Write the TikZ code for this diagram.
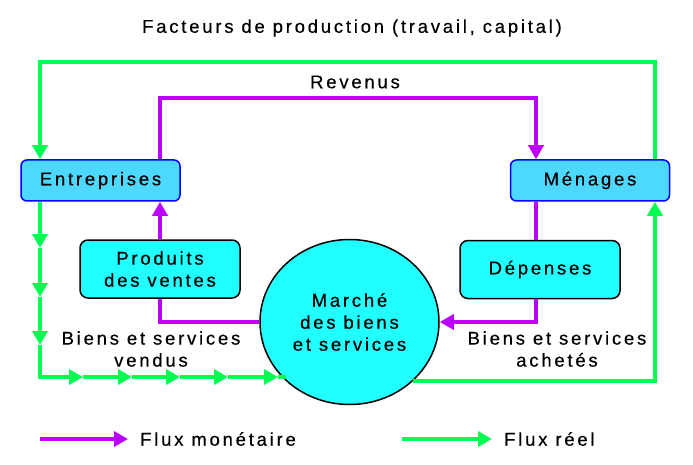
\documentclass[tikz,border=0pt]{standalone}
\usepackage{fontspec}
\setmainfont{Liberation Sans}[LetterSpace=15,FakeBold=0.4]
\usetikzlibrary{arrows.meta,shapes.geometric}
\definecolor{vert}{RGB}{0,255,80}
\definecolor{violetf}{RGB}{187,0,255}
\definecolor{bleuc}{RGB}{77,217,255}
\definecolor{cyanc}{RGB}{34,255,255}
\begin{document}
\begin{tikzpicture}[x=1pt,y=-1pt,
  every node/.style={font=\fontsize{18.5}{22}\selectfont},
  agent/.style={draw=blue,line width=1.5pt,fill=bleuc,rounded corners=6pt,minimum width=159pt,minimum height=41pt,inner sep=0pt},
  fluxbox/.style={draw=black,line width=1.5pt,fill=cyanc,rounded corners=8pt,minimum width=160pt,minimum height=58pt,align=center,inner sep=0pt},
  marche/.style={ellipse,draw=black,line width=1.5pt,fill=cyanc,minimum width=179pt,minimum height=165pt,inner sep=0pt,align=center},
  reel/.style={draw=vert,line width=4pt},
  mon/.style={draw=violetf,line width=4pt},
  tipr/.style={-{Triangle[length=14pt,width=15pt]}},
  lbl/.style={align=center,inner sep=0pt}
]
\useasboundingbox (0,0) rectangle (693,465);

% nodes
\node[agent] (E) at (100.5,180.5) {Entreprises};
\node[agent] (M) at (590,180.5) {Ménages};
\node[fluxbox] (P) at (160,269) {Produits\\des ventes};
\node[fluxbox] (D) at (540,269.5) {Dépenses};
\node[marche] (C) at (349.5,322) {Marché\\des biens\\et services};

% texts
\node[lbl] (T) at (352,28) {Facteurs de production (travail, capital)};
\node[lbl] (R) at (355,82) {Revenus};
\node[lbl] (BV) at (151,349) {Biens et services\\vendus};
\node[lbl] (BA) at (557,349) {Biens et services\\achetés};

% helper coordinates
\coordinate (gL) at (40,0);
\coordinate (gR) at (655,0);
\coordinate (gT) at (0,62);
\coordinate (pL) at (160,0);
\coordinate (pR) at (536,0);
\coordinate (pT) at (0,98);

% top green (facteurs de production)
\draw[reel,tipr] (M.north -| gR) |- (gT -| gL) -- (E.north -| gL);
% revenus
\draw[mon,tipr] (E.north -| pL) |- (pT -| pR) -- (M.north -| pR);

% left green chain
\coordinate (g1) at (40,248);
\coordinate (g2) at (40,297);
\coordinate (g3) at (40,345);
\coordinate (gc) at (40,377);
\coordinate (h1) at (83,377);
\coordinate (h2) at (132,377);
\coordinate (h3) at (180,377);
\coordinate (h4) at (228,377);
\coordinate (h5) at (278,377);
\draw[reel,tipr] (E.south -| gL) -- (g1);
\draw[reel,tipr] (g1) -- (g2);
\draw[reel,tipr] (g2) -- (g3);
\draw[reel,tipr] (g3) -- (gc) -- (h1);
\draw[reel,tipr] (h1) -- (h2);
\draw[reel,tipr] (h2) -- (h3);
\draw[reel,tipr] (h3) -- (h4);
\draw[reel,tipr] (h4) -- (h5);
\draw[reel] (h5) -- (C.south west |- h5);

% right green
\draw[reel,tipr] (C.south east) -- (C.south east -| gR) -- (M.south -| gR);

% purple: market -> produits -> entreprises
\draw[mon] (C.west) -| (P.south);
\draw[mon,tipr] (P.north) -- (E.south -| P.north);

% purple: menages -> depenses -> market
\draw[mon] (M.south -| pR) -- (D.north -| pR);
\draw[mon,tipr] (D.south -| pR) |- (C.east);

% legend
\coordinate (lm1) at (40,439);
\coordinate (lm2) at (128,439);
\coordinate (lr1) at (402,439);
\coordinate (lr2) at (492,439);
\draw[mon,tipr] (lm1) -- (lm2);
\node[lbl,anchor=west] (LM) at (140,439) {Flux monétaire};
\draw[reel,tipr] (lr1) -- (lr2);
\node[lbl,anchor=west] (LR) at (504,439) {Flux réel};
\end{tikzpicture}
\end{document}
